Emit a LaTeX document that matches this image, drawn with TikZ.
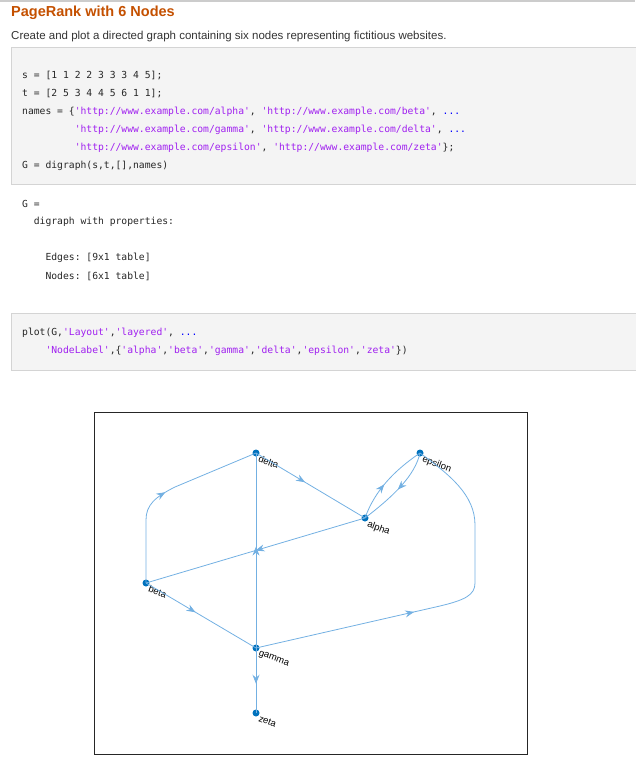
\documentclass[tikz,border=0pt]{standalone}
\usepackage{fontspec}
\setmainfont{Liberation Sans}
\setmonofont{DejaVu Sans Mono}
\usetikzlibrary{decorations.markings,arrows.meta}
\definecolor{ttl}{RGB}{196,80,0}
\definecolor{str}{RGB}{160,32,240}
\definecolor{edge}{RGB}{115,176,226}
\definecolor{nd}{RGB}{0,114,189}
\tikzset{
  codebox/.style={fill={rgb,255:red,244;green,244;blue,244},draw={rgb,255:red,212;green,212;blue,212},line width=0.8pt},
  code/.style={anchor=west,inner sep=0pt,font=\fontsize{9.7}{11}\ttfamily,text=black!85},
  txt/.style={anchor=west,inner sep=0pt},
  gnode/.style={circle,fill=nd,inner sep=0pt,minimum size=7pt},
  glabel/.style={anchor=north west,inner sep=0pt,rotate=-20,font=\fontsize{9.5}{10}\selectfont},
  gedge/.style={draw=edge,line width=0.8pt},
  mid/.style={postaction={decorate,decoration={markings,mark=at position #1 with {\arrow{Stealth[length=9pt,width=7pt,inset=3pt,fill=edge]}}}}}
}
\newcommand{\s}[1]{\textcolor{str}{#1}}
\begin{document}
\begin{tikzpicture}[x=1pt,y=-1pt]
\useasboundingbox (0,0) rectangle (635,770);
\draw[gray!40,line width=2pt] (0,1) -- (635,1);
\node[txt,font=\fontsize{14.5}{16}\bfseries\selectfont,text=ttl] (title) at (11,13) {PageRank with 6 Nodes};
\node[txt,font=\fontsize{11.5}{13}\selectfont,text=black!80] (desc) at (11,37) {Create and plot a directed graph containing six nodes representing fictitious websites.};
\draw[codebox] (11,47) rectangle (640,184);
\node[code] (c1) at (22,75) {s = [1 1 2 2 3 3 3 4 5];};
\node[code] (c2) at (22,93) {t = [2 5 3 4 4 5 6 1 1];};
\node[code] (c3) at (22,112) {names = \{\s{'http://www.example.com/alpha'}, \s{'http://www.example.com/beta'}, \textcolor{blue}{...}};
\node[code] (c4) at (22,130) {\phantom{names = \{}\s{'http://www.example.com/gamma'}, \s{'http://www.example.com/delta'}, \textcolor{blue}{...}};
\node[code] (c5) at (22,148) {\phantom{names = \{}\s{'http://www.example.com/epsilon'}, \s{'http://www.example.com/zeta'}\};};
\node[code] (c6) at (22,166) {G = digraph(s,t,[],names)};
\node[code] (o1) at (22,204) {G =};
\node[code] (o2) at (22,222) {\ \ digraph with properties:};
\node[code] (o3) at (22,258) {\ \ \ \ Edges: [9x1 table]};
\node[code] (o4) at (22,276) {\ \ \ \ Nodes: [6x1 table]};
\draw[codebox] (11,313) rectangle (640,370);
\node[code] (p1) at (22,333) {plot(G,\s{'Layout'},\s{'layered'}, \textcolor{blue}{...}};
\node[code] (p2) at (22,351) {\ \ \ \ \s{'NodeLabel'},\{\s{'alpha'},\s{'beta'},\s{'gamma'},\s{'delta'},\s{'epsilon'},\s{'zeta'}\})};
\draw[black!85,line width=0.8pt] (94,412) rectangle (527,754);
\node[gnode] (delta) at (256,453) {};
\node[gnode] (epsilon) at (420,453) {};
\node[gnode] (alpha) at (365,518) {};
\node[gnode] (beta) at (146,583) {};
\node[gnode] (gamma) at (256,648) {};
\node[gnode] (zeta) at (256,713) {};
\foreach \n in {delta,epsilon,alpha,beta,gamma,zeta}{
  \node[glabel] (l\n) at ([xshift=4pt,yshift=-2pt]\n.center) {\n};
}
\coordinate (b1) at (146,520);
\coordinate (e1) at (475,583);
\path[gedge,mid=0.5] (alpha.center) -- (beta.center);
\path[gedge,mid=0.45] (delta.center) -- (alpha.center);
\path[gedge,mid=0.45] (beta.center) -- (gamma.center);
\path[gedge,mid=0.52] (gamma.center) -- (delta.center);
\path[gedge,mid=0.55] (gamma.center) -- (zeta.center);
\path[gedge,mid=0.45] (alpha.center) .. controls (375,490) and (395,470) .. (epsilon.center);
\path[gedge,mid=0.5] (epsilon.center) .. controls (415,475) and (395,495) .. (alpha.center);
\path[gedge,mid=0.5] (beta.center) -- (b1) .. controls (146,505) and (155,497) .. (175,487) -- (delta.center);
\path[gedge,mid=0.42] (gamma.center) -- (440,606) .. controls (465,600) and (475,595) .. (e1) -- (475,525) .. controls (475,495) and (450,475) .. (epsilon.center);
\end{tikzpicture}
\end{document}
